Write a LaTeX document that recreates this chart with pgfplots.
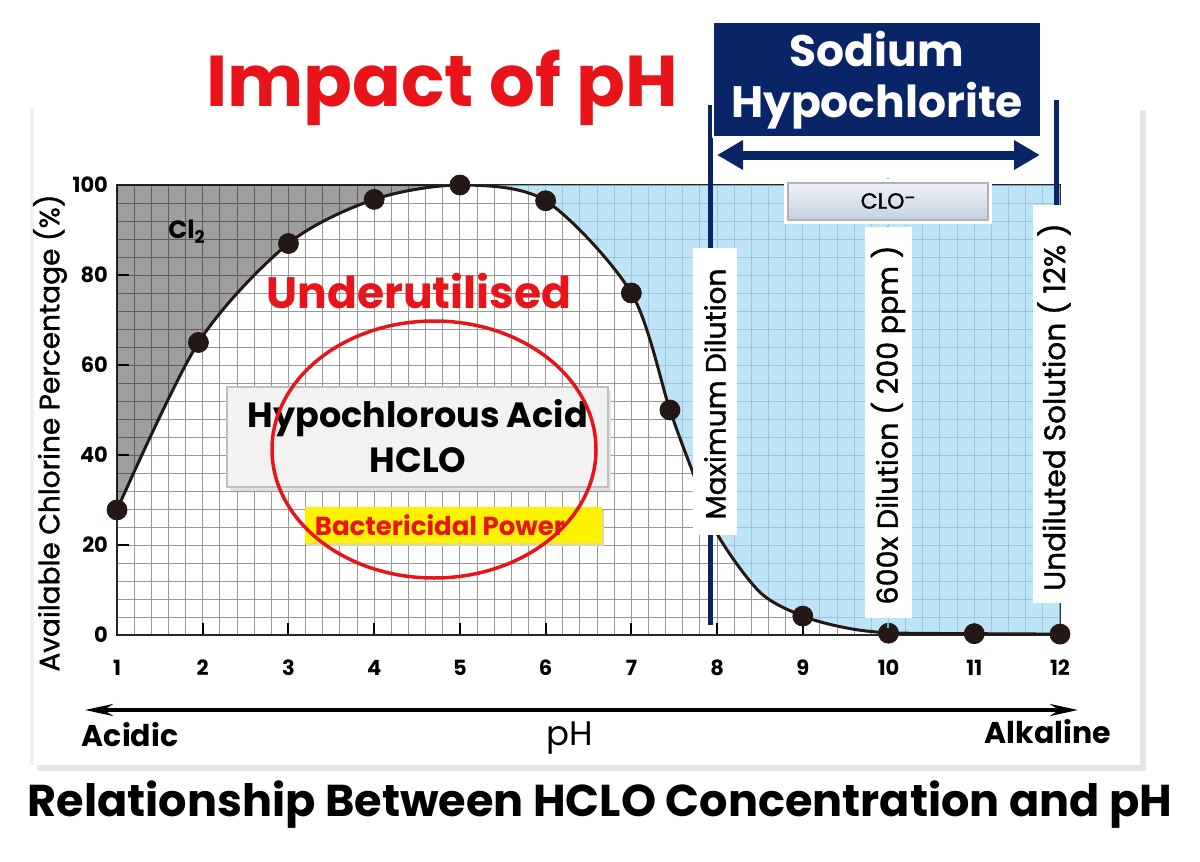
\documentclass[border=0pt]{standalone}
\usepackage{fontspec}
\setmainfont{Poppins}
\newfontfamily\medfont{Poppins}[FakeBold=1.3]
\usepackage{pgfplots}
\pgfplotsset{compat=1.18}
\usepackage{pgfplotstable}
\usetikzlibrary{arrows.meta}

\definecolor{navy}{RGB}{10,36,104}
\definecolor{hred}{RGB}{232,20,26}
\definecolor{clofill}{RGB}{162,216,244}
\definecolor{dotc}{RGB}{35,24,21}
\definecolor{clotop}{RGB}{238,242,247}
\definecolor{clobot}{RGB}{196,210,224}
\newcommand\fs[2]{\fontsize{#1}{#2}\selectfont}

% curve through the dots (plus a few read-off points on the falling edge)
\pgfplotstableread{
x y
1 27.8
1.95 65
3 87
4 96.8
5 100
6 96.5
7 76
7.45 50
7.7 37
8 22.5
8.5 9.5
9 4.2
9.5 1.6
10 0.5
11 0.3
12 0.2
}\curvedata

% acid side (Cl2 region above it) and alkaline side (ClO- region above it)
\pgfplotstableread{
x y
1 27.8
1.95 65
3 87
4 96.8
5 100
}\curveacid

\pgfplotstableread{
x y
5 100
6 96.5
7 76
7.45 50
7.7 37
8 22.5
8.5 9.5
9 4.2
9.5 1.6
10 0.5
11 0.3
12 0.2
}\curvealk

\pgfplotstableread{
x y
1 27.8
1.95 65
3 87
4 96.8
5 100
6 96.5
7 76
7.45 50
9 4.2
10 0.4
11 0.3
12 0.2
}\dotdata

\begin{document}
\begin{tikzpicture}

% panel shadow (right and bottom edges only, the page is white)
\begin{scope}[x=0.5pt,y=-0.5pt]
  \fill[black!10] (1140,110) rectangle (1146,771);
  \fill[black!10] (37,765) rectangle (1146,771);
  \fill[black!6] (30,108) rectangle (34,765);
\end{scope}

\begin{axis}[
  at={(58.5pt,-317.5pt)}, anchor=south west,
  width=471.5pt, height=225pt, scale only axis,
  xmin=1, xmax=12, ymin=0, ymax=100,
  xtick={1,...,12}, ytick={0,20,...,100},
  minor x tick num=4, minor y tick num=4,
  grid=both,
  major grid style={black!40, line width=0.5pt},
  minor grid style={black!40, line width=0.5pt},
  tick align=inside, tick pos=left,
  major tick length=6pt, minor tick length=0pt,
  tick style={black, line width=1pt},
  axis line style={black!85, line width=0.9pt},
  /pgf/number format/assume math mode=true,
  ticklabel style={font=\bfseries\fs{10.5}{13}},
  xticklabel style={yshift=-9pt},
  yticklabel style={xshift=-1pt},
]
\addplot[fill=black, fill opacity=0.38, draw=none, smooth]
  table {\curveacid} -- (axis cs:1,100) -- cycle;
\addplot[fill=clofill, fill opacity=0.7, draw=none, smooth]
  table {\curvealk} -- (axis cs:12,100) -- cycle;
\addplot[dotc, line width=1.5pt, smooth] table {\curvedata};
\addplot[only marks, mark=*, mark size=5pt, dotc] table {\dotdata};
\end{axis}

\begin{scope}[x=0.5pt,y=-0.5pt]
  % dilution markers
  \draw[cyan!70, dashed, line width=1pt] (888,178) -- (888,630);
  \draw[navy, line width=2.5pt] (710,105) -- (710,625);
  \draw[navy, line width=2.5pt] (1056,100) -- (1056,205);

  % sodium hypochlorite box and range arrow
  \filldraw[fill=navy, draw=white, line width=1pt] (713,22) rectangle (1041,137);
  \node[white, font=\bfseries\fs{22}{25.5}, align=center] at (877,80) {Sodium\\Hypochlorite};
  \draw[navy, line width=4.5pt, {Triangle[length=13pt,width=14pt]}-{Triangle[length=13pt,width=14pt]}]
    (717,155) -- (1040,155);

  % CLO- box
  \fill[white] (784,179) rectangle (992,224);
  \shade[top color=clotop, bottom color=clobot] (788,183) rectangle (988,220);
  \draw[black!30, line width=0.6pt] (788,183) rectangle (988,220);
  \node[font=\medfont\fs{11}{13}] at (888,201) {CLO\raisebox{0.45ex}{\fs{8}{9}–}};

  % vertical labels
  \fill[white] (693,248) rectangle (737,535);
  \node[rotate=90, font=\medfont\fs{14}{16}] at (715,394) {Maximum Dilution};
  \fill[white] (865,227) rectangle (912,618);
  \node[rotate=90, font=\medfont\fs{14.3}{16}] at (888,425) {600x Dilution ( 200 ppm )};
  \fill[white] (1033,205) rectangle (1072,603);
  \node[rotate=90, font=\medfont\fs{14.8}{16}] at (1054,407) {Undiluted Solution ( 12\% )};

  % Cl2
  \node[font=\bfseries\fs{12.5}{14}] at (187,232) {Cl\textsubscript{2}};

  % hypochlorous acid box
  \fill[black!12] (230,391) rectangle (611,491);
  \fill[white!95!black] (227,387) rectangle (608,487);
  \draw[black!25, line width=0.6pt] (227,387) rectangle (608,487);
  \node[font=\bfseries\fs{17.5}{22.5}, align=center] at (418,436) {Hypochlorous Acid\\HCLO};

  % bactericidal power
  \fill[yellow!60!black!40] (307,510) rectangle (604,546);
  \fill[yellow] (305,507) rectangle (602,543);
  \node[hred, font=\bfseries\fs{13}{15}] at (440,525) {Bactericidal Power};

  % red ellipse and labels
  \draw[hred, line width=1.75pt] (434,449.5) ellipse [x radius=162, y radius=128.5];
  \node[hred, font=\bfseries\fs{22}{26}] at (419,291) {Underutilised};
  \node[hred, font=\bfseries\fs{36}{40}] at (442,88) {Impact of pH};

  % axis labels
  \node[rotate=90, font=\medfont\fs{14}{16}] at (50,433) {Available Chlorine Percentage (\%)};
  \draw[line width=2pt, {Stealth[length=14pt,width=6pt]}-{Stealth[length=14pt,width=6pt]}]
    (85,710) -- (1078,710);
  \node[font=\bfseries\fs{15}{17}] at (130,735) {Acidic};
  \node[font=\fs{17}{19}] at (570,738) {pH};
  \node[font=\bfseries\fs{15}{17}] at (1048,732) {Alkaline};

  % caption
  \node[font=\bfseries\fs{22.3}{26}] at (600,805) {Relationship Between HCLO Concentration and pH};
\end{scope}

\pgfresetboundingbox
\path (0,0) rectangle (600pt,-431pt);
\end{tikzpicture}
\end{document}
